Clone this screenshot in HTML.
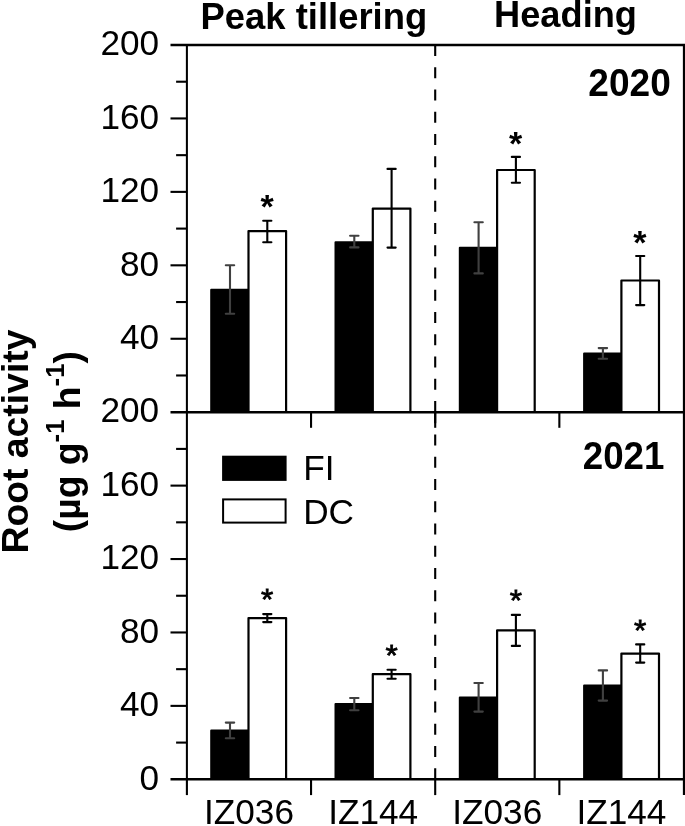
<!DOCTYPE html><html><head><meta charset="utf-8"><title>Root activity</title>
<style>html,body{margin:0;padding:0;background:#fff}svg{display:block}text{font-family:"Liberation Sans",sans-serif;fill:#000}</style></head><body>
<svg width="685" height="826" viewBox="0 0 685 826">
<rect width="685" height="826" fill="#fff"/>
<path d="M211.20 412.2V289.80H248.50V412.2" fill="#000" stroke="#000" stroke-width="2" stroke-linejoin="round"/>
<path d="M248.50 412.2V231.10H286.10V412.2" fill="#fff" stroke="#000" stroke-width="2.2" stroke-linejoin="round"/>
<path d="M230.00 265.30V313.70M225.80 265.30H234.20M225.80 313.70H234.20" stroke="#404040" stroke-width="2.1" stroke-linecap="round" fill="none"/>
<path d="M267.30 220.70V242.30M263.20 220.70H271.40M263.20 242.30H271.40" stroke="#000" stroke-width="2.1" stroke-linecap="round" fill="none"/>
<text x="267.00" y="218.24" font-size="34" font-weight="bold" text-anchor="middle">*</text>
<path d="M335.50 412.2V242.20H372.80V412.2" fill="#000" stroke="#000" stroke-width="2" stroke-linejoin="round"/>
<path d="M372.80 412.2V208.60H410.40V412.2" fill="#fff" stroke="#000" stroke-width="2.2" stroke-linejoin="round"/>
<path d="M354.30 235.80V247.40M350.10 235.80H358.50M350.10 247.40H358.50" stroke="#404040" stroke-width="2.1" stroke-linecap="round" fill="none"/>
<path d="M391.60 168.90V247.60M387.50 168.90H395.70M387.50 247.60H395.70" stroke="#000" stroke-width="2.1" stroke-linecap="round" fill="none"/>
<path d="M459.80 412.2V247.80H497.10V412.2" fill="#000" stroke="#000" stroke-width="2" stroke-linejoin="round"/>
<path d="M497.10 412.2V170.00H534.70V412.2" fill="#fff" stroke="#000" stroke-width="2.2" stroke-linejoin="round"/>
<path d="M478.60 222.30V273.40M474.40 222.30H482.80M474.40 273.40H482.80" stroke="#404040" stroke-width="2.1" stroke-linecap="round" fill="none"/>
<path d="M515.90 156.90V182.70M511.80 156.90H520.00M511.80 182.70H520.00" stroke="#000" stroke-width="2.1" stroke-linecap="round" fill="none"/>
<text x="515.60" y="154.64" font-size="34" font-weight="bold" text-anchor="middle">*</text>
<path d="M584.10 412.2V353.50H621.40V412.2" fill="#000" stroke="#000" stroke-width="2" stroke-linejoin="round"/>
<path d="M621.40 412.2V280.50H659.00V412.2" fill="#fff" stroke="#000" stroke-width="2.2" stroke-linejoin="round"/>
<path d="M602.90 348.10V358.70M598.70 348.10H607.10M598.70 358.70H607.10" stroke="#404040" stroke-width="2.1" stroke-linecap="round" fill="none"/>
<path d="M640.20 256.00V305.10M636.10 256.00H644.30M636.10 305.10H644.30" stroke="#000" stroke-width="2.1" stroke-linecap="round" fill="none"/>
<text x="639.90" y="254.04" font-size="34" font-weight="bold" text-anchor="middle">*</text>
<path d="M211.20 779.3V730.60H248.50V779.3" fill="#000" stroke="#000" stroke-width="2" stroke-linejoin="round"/>
<path d="M248.50 779.3V618.10H286.10V779.3" fill="#fff" stroke="#000" stroke-width="2.2" stroke-linejoin="round"/>
<path d="M230.00 722.60V738.30M225.80 722.60H234.20M225.80 738.30H234.20" stroke="#404040" stroke-width="2.1" stroke-linecap="round" fill="none"/>
<path d="M267.30 614.10V622.10M263.20 614.10H271.40M263.20 622.10H271.40" stroke="#000" stroke-width="2.1" stroke-linecap="round" fill="none"/>
<text transform="translate(267.20 609.39) scale(1 0.96)" font-size="31.5" text-anchor="middle" stroke="#000" stroke-width="0.8">*</text>
<path d="M335.50 779.3V704.00H372.80V779.3" fill="#000" stroke="#000" stroke-width="2" stroke-linejoin="round"/>
<path d="M372.80 779.3V674.20H410.40V779.3" fill="#fff" stroke="#000" stroke-width="2.2" stroke-linejoin="round"/>
<path d="M354.30 698.00V710.30M350.10 698.00H358.50M350.10 710.30H358.50" stroke="#404040" stroke-width="2.1" stroke-linecap="round" fill="none"/>
<path d="M391.60 669.80V678.80M387.50 669.80H395.70M387.50 678.80H395.70" stroke="#000" stroke-width="2.1" stroke-linecap="round" fill="none"/>
<text transform="translate(391.50 665.19) scale(1 0.96)" font-size="31.5" text-anchor="middle" stroke="#000" stroke-width="0.8">*</text>
<path d="M459.80 779.3V697.60H497.10V779.3" fill="#000" stroke="#000" stroke-width="2" stroke-linejoin="round"/>
<path d="M497.10 779.3V630.40H534.70V779.3" fill="#fff" stroke="#000" stroke-width="2.2" stroke-linejoin="round"/>
<path d="M478.60 683.00V711.60M474.40 683.00H482.80M474.40 711.60H482.80" stroke="#404040" stroke-width="2.1" stroke-linecap="round" fill="none"/>
<path d="M515.90 614.90V645.90M511.80 614.90H520.00M511.80 645.90H520.00" stroke="#000" stroke-width="2.1" stroke-linecap="round" fill="none"/>
<text transform="translate(515.80 610.39) scale(1 0.96)" font-size="31.5" text-anchor="middle" stroke="#000" stroke-width="0.8">*</text>
<path d="M584.10 779.3V685.60H621.40V779.3" fill="#000" stroke="#000" stroke-width="2" stroke-linejoin="round"/>
<path d="M621.40 779.3V653.60H659.00V779.3" fill="#fff" stroke="#000" stroke-width="2.2" stroke-linejoin="round"/>
<path d="M602.90 670.40V700.60M598.70 670.40H607.10M598.70 700.60H607.10" stroke="#404040" stroke-width="2.1" stroke-linecap="round" fill="none"/>
<path d="M640.20 644.40V662.60M636.10 644.40H644.30M636.10 662.60H644.30" stroke="#000" stroke-width="2.1" stroke-linecap="round" fill="none"/>
<text transform="translate(640.10 640.09) scale(1 0.96)" font-size="31.5" text-anchor="middle" stroke="#000" stroke-width="0.8">*</text>
<line x1="435.20" y1="45.0" x2="435.20" y2="412.2" stroke="#000" stroke-width="2.1" stroke-dasharray="11 11.25"/>
<line x1="435.20" y1="412.2" x2="435.20" y2="779.3" stroke="#000" stroke-width="2.1" stroke-dasharray="11 11.25"/>
<path d="M186.9 45.0V779.3" stroke="#000" stroke-width="2.05" fill="none"/>
<path d="M684.1 45.0V795.0999999999999M170.5 45.0H685M170.5 412.2H685M170.5 779.3H685" stroke="#000" stroke-width="2.45" fill="none"/>
<line x1="176.1" y1="375.48" x2="186.9" y2="375.48" stroke="#000" stroke-width="2.1"/>
<line x1="170.5" y1="338.76" x2="186.9" y2="338.76" stroke="#000" stroke-width="2.1"/>
<line x1="176.1" y1="302.04" x2="186.9" y2="302.04" stroke="#000" stroke-width="2.1"/>
<line x1="170.5" y1="265.32" x2="186.9" y2="265.32" stroke="#000" stroke-width="2.1"/>
<line x1="176.1" y1="228.60" x2="186.9" y2="228.60" stroke="#000" stroke-width="2.1"/>
<line x1="170.5" y1="191.88" x2="186.9" y2="191.88" stroke="#000" stroke-width="2.1"/>
<line x1="176.1" y1="155.16" x2="186.9" y2="155.16" stroke="#000" stroke-width="2.1"/>
<line x1="170.5" y1="118.44" x2="186.9" y2="118.44" stroke="#000" stroke-width="2.1"/>
<line x1="176.1" y1="81.72" x2="186.9" y2="81.72" stroke="#000" stroke-width="2.1"/>
<line x1="176.1" y1="742.59" x2="186.9" y2="742.59" stroke="#000" stroke-width="2.1"/>
<line x1="170.5" y1="705.88" x2="186.9" y2="705.88" stroke="#000" stroke-width="2.1"/>
<line x1="176.1" y1="669.17" x2="186.9" y2="669.17" stroke="#000" stroke-width="2.1"/>
<line x1="170.5" y1="632.46" x2="186.9" y2="632.46" stroke="#000" stroke-width="2.1"/>
<line x1="176.1" y1="595.75" x2="186.9" y2="595.75" stroke="#000" stroke-width="2.1"/>
<line x1="170.5" y1="559.04" x2="186.9" y2="559.04" stroke="#000" stroke-width="2.1"/>
<line x1="176.1" y1="522.33" x2="186.9" y2="522.33" stroke="#000" stroke-width="2.1"/>
<line x1="170.5" y1="485.62" x2="186.9" y2="485.62" stroke="#000" stroke-width="2.1"/>
<line x1="176.1" y1="448.91" x2="186.9" y2="448.91" stroke="#000" stroke-width="2.1"/>
<line x1="186.90" y1="779.3" x2="186.90" y2="795.0999999999999" stroke="#000" stroke-width="2.1"/>
<line x1="311.05" y1="779.3" x2="311.05" y2="795.0999999999999" stroke="#000" stroke-width="2.1"/>
<line x1="311.05" y1="412.2" x2="311.05" y2="427.8" stroke="#000" stroke-width="2.1"/>
<line x1="435.20" y1="779.3" x2="435.20" y2="795.0999999999999" stroke="#000" stroke-width="2.1"/>
<line x1="435.20" y1="412.2" x2="435.20" y2="427.8" stroke="#000" stroke-width="2.1"/>
<line x1="559.35" y1="779.3" x2="559.35" y2="795.0999999999999" stroke="#000" stroke-width="2.1"/>
<line x1="559.35" y1="412.2" x2="559.35" y2="427.8" stroke="#000" stroke-width="2.1"/>
<text x="159.2" y="348.96" font-size="35.2" text-anchor="end">40</text>
<text x="159.2" y="275.52" font-size="35.2" text-anchor="end">80</text>
<text x="159.2" y="202.08" font-size="35.2" text-anchor="end">120</text>
<text x="159.2" y="128.64" font-size="35.2" text-anchor="end">160</text>
<text x="159.2" y="55.20" font-size="35.2" text-anchor="end">200</text>
<text x="159.2" y="789.50" font-size="35.2" text-anchor="end">0</text>
<text x="159.2" y="716.08" font-size="35.2" text-anchor="end">40</text>
<text x="159.2" y="642.66" font-size="35.2" text-anchor="end">80</text>
<text x="159.2" y="569.24" font-size="35.2" text-anchor="end">120</text>
<text x="159.2" y="495.82" font-size="35.2" text-anchor="end">160</text>
<text x="159.2" y="422.40" font-size="35.2" text-anchor="end">200</text>
<text x="248.98" y="823.6" font-size="35.2" text-anchor="middle">IZ036</text>
<text x="373.12" y="823.6" font-size="35.2" text-anchor="middle">IZ144</text>
<text x="497.27" y="823.6" font-size="35.2" text-anchor="middle">IZ036</text>
<text x="621.43" y="823.6" font-size="35.2" text-anchor="middle">IZ144</text>
<text transform="translate(313.9 28.6) scale(0.992 1.03)" font-size="36.7" font-weight="bold" text-anchor="middle">Peak tillering</text>
<text transform="translate(565.5 26.9) scale(0.987 1.02)" font-size="36.7" font-weight="bold" text-anchor="middle">Heading</text>
<text transform="translate(670.8 95.8) scale(1.01 1.045)" font-size="36.7" font-weight="bold" text-anchor="end">2020</text>
<text transform="translate(664.4 468.6) scale(1 1.05)" font-size="36.7" font-weight="bold" text-anchor="end">2021</text>
<rect x="222.1" y="455.7" width="64.5" height="25.2" fill="#000"/>
<rect x="223.1" y="499.4" width="62.5" height="23.2" fill="#fff" stroke="#000" stroke-width="2"/>
<text x="303.2" y="480.1" font-size="35.2">FI</text>
<text x="303.2" y="523.6" font-size="35.2">DC</text>
<text transform="translate(28 441.5) rotate(-90) scale(1.017 1)" font-size="36.7" font-weight="bold" text-anchor="middle">Root activity</text>
<text transform="translate(79.7 441.6) rotate(-90) scale(1.015 1)" font-size="36.7" font-weight="bold" text-anchor="middle">(µg g<tspan font-size="25.4" dy="-15.4">-1</tspan><tspan dy="15.4"> h</tspan><tspan font-size="25.4" dy="-15.4">-1</tspan><tspan dy="15.4">)</tspan></text>
</svg></body></html>
